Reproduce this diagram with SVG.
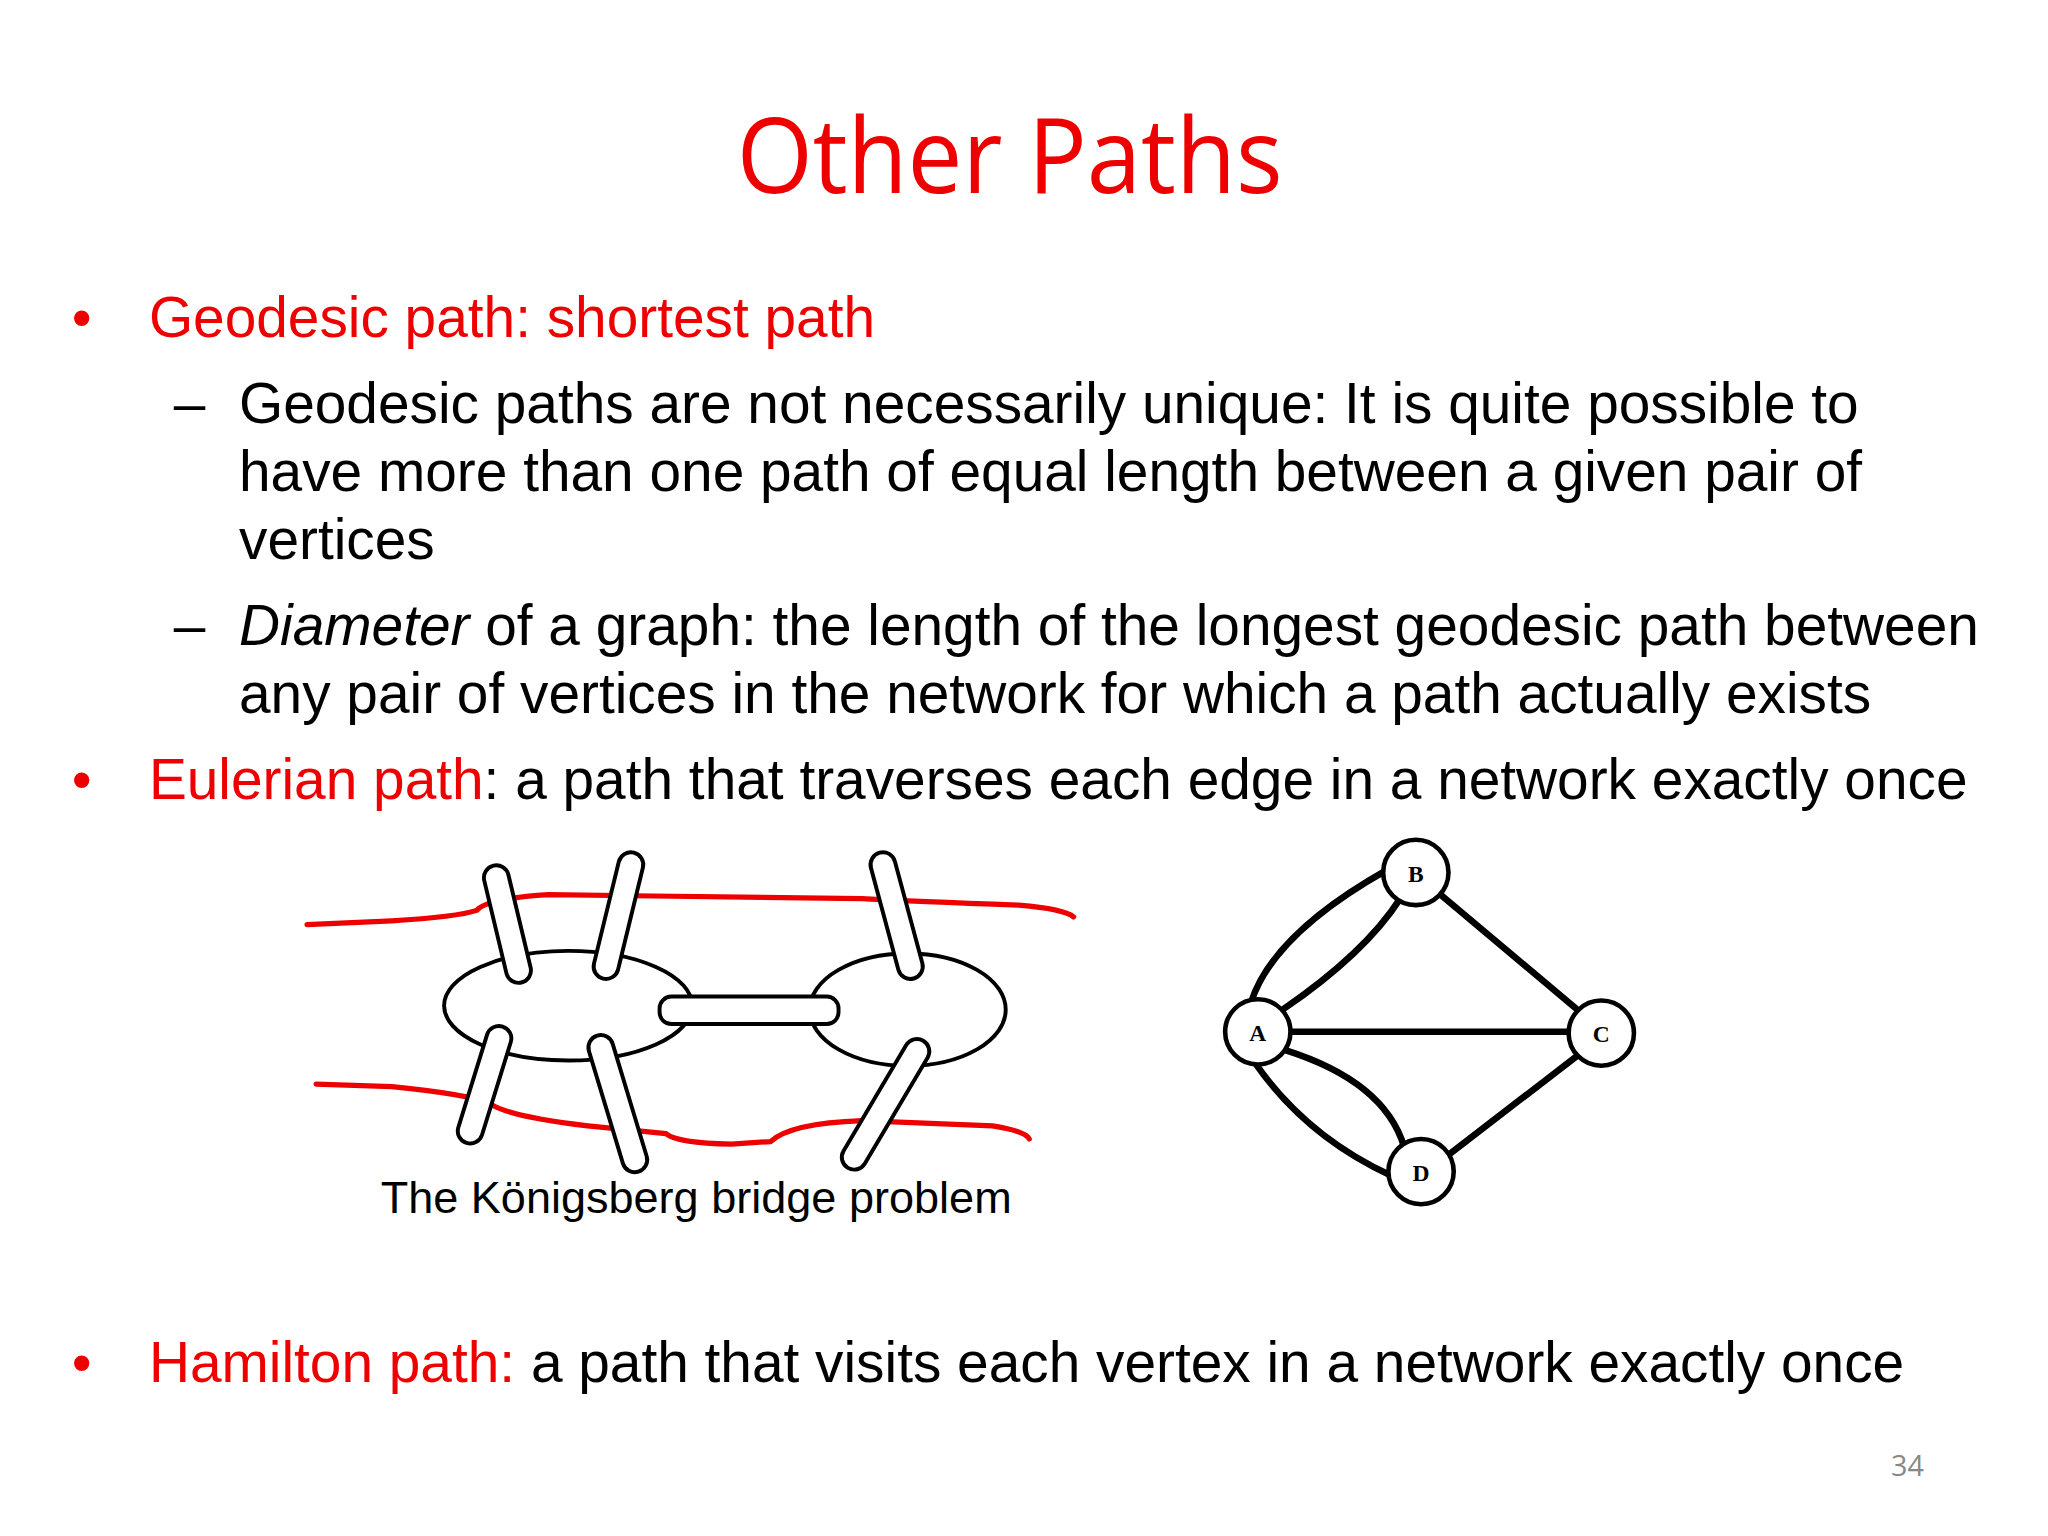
<svg xmlns="http://www.w3.org/2000/svg" width="2048" height="1536" viewBox="0 0 2048 1536">
<style>
.t{font-family:"Liberation Sans",Arial,sans-serif;font-size:43.5px;fill:#000}
.r{fill:#ee0000}
.red{fill:none;stroke:#ee0000;stroke-width:4;stroke-linecap:round;stroke-linejoin:round}
.isl{fill:#fff;stroke:#000;stroke-width:3}
.br{fill:#fff;stroke:#000;stroke-width:3}
.e{fill:none;stroke:#000;stroke-width:5}
.n{fill:#fff;stroke:#000;stroke-width:3.5}
.nl{font-family:"Liberation Serif",serif;font-weight:bold;font-size:18px;text-anchor:middle}
</style>
<rect width="2048" height="1536" fill="#fff"/>
<g transform="scale(1.30612)">
<text x="773" y="148" text-anchor="middle" font-family="'Open Sans','Liberation Sans',sans-serif" font-size="80" fill="#ee0000" textLength="418" lengthAdjust="spacingAndGlyphs">Other Paths</text>
<g class="t">
<text x="55" y="258" class="r">•</text>
<text x="114" y="258" class="r">Geodesic path: shortest path</text>
<text x="133" y="324">–</text>
<text x="183" y="324">Geodesic paths are not necessarily unique: It is quite possible to</text>
<text x="183" y="376">have more than one path of equal length between a given pair of</text>
<text x="183" y="428">vertices</text>
<text x="133" y="494">–</text>
<text x="183" y="494"><tspan font-style="italic">Diameter</tspan> of a graph: the length of the longest geodesic path between</text>
<text x="183" y="546">any pair of vertices in the network for which a path actually exists</text>
<text x="55" y="612" class="r">•</text>
<text x="114" y="612"><tspan class="r">Eulerian path</tspan>: a path that traverses each edge in a network exactly once</text>
<text x="55" y="1058" class="r">•</text>
<text x="114" y="1058"><tspan class="r">Hamilton path:</tspan> a path that visits each vertex in a network exactly once</text>
</g>
<text x="1473" y="1130" text-anchor="end" font-family="'Open Sans',sans-serif" font-size="22" fill="#888">34</text>
<g id="konigsberg">
<path class="red" d="M235,708 L300,705 Q350,702 365,697 Q372,688 420,685 L500,686 L660,688 Q700,690 780,693 Q815,696 822,702"/>
<path class="red" d="M242,830 L300,832 Q360,838 375,845 Q390,855 450,862 L510,868 Q518,875 560,876 L590,874 Q605,860 660,858 L760,862 Q785,866 788,872"/>
<ellipse class="isl" cx="435" cy="770" rx="95" ry="42"/>
<ellipse class="isl" cx="695" cy="773" rx="75" ry="43"/>
<g class="br">
<line x1="380" y1="672" x2="397" y2="743" stroke="#000" stroke-width="22" stroke-linecap="round"/>
<line x1="380" y1="672" x2="397" y2="743" stroke="#fff" stroke-width="16" stroke-linecap="round"/>
<line x1="483" y1="662" x2="464" y2="740" stroke="#000" stroke-width="22" stroke-linecap="round"/>
<line x1="483" y1="662" x2="464" y2="740" stroke="#fff" stroke-width="16" stroke-linecap="round"/>
<line x1="676" y1="662" x2="697" y2="740" stroke="#000" stroke-width="22" stroke-linecap="round"/>
<line x1="676" y1="662" x2="697" y2="740" stroke="#fff" stroke-width="16" stroke-linecap="round"/>
<line x1="382" y1="795" x2="360" y2="866" stroke="#000" stroke-width="22" stroke-linecap="round"/>
<line x1="382" y1="795" x2="360" y2="866" stroke="#fff" stroke-width="16" stroke-linecap="round"/>
<line x1="460" y1="802" x2="486" y2="888" stroke="#000" stroke-width="22" stroke-linecap="round"/>
<line x1="460" y1="802" x2="486" y2="888" stroke="#fff" stroke-width="16" stroke-linecap="round"/>
<line x1="702" y1="805" x2="654" y2="886" stroke="#000" stroke-width="22" stroke-linecap="round"/>
<line x1="702" y1="805" x2="654" y2="886" stroke="#fff" stroke-width="16" stroke-linecap="round"/>
<rect x="505" y="763" width="137" height="21" rx="9" class="br"/>
</g>
<text x="533" y="929" text-anchor="middle" font-family="'Liberation Sans',Arial,sans-serif" font-size="34.5">The Königsberg bridge problem</text>
</g>
<g id="connectors">
<path class="e" d="M958,767 Q975,715 1062,666"/>
<path class="e" d="M982,773 Q1045,730 1072,688"/>
<line class="e" x1="988" y1="790" x2="1200" y2="790"/>
<path class="e" d="M961,814 Q1000,870 1065,900"/>
<path class="e" d="M984,804 Q1060,828 1075,878"/>
<line class="e" x1="1103" y1="685" x2="1210" y2="775"/>
<line class="e" x1="1208" y1="808" x2="1108" y2="885"/>
</g>
<g id="A"><circle class="n" cx="963" cy="790" r="25"/><text class="nl" x="963" y="797">A</text></g>
<g id="B"><circle class="n" cx="1084" cy="668" r="25"/><text class="nl" x="1084" y="675">B</text></g>
<g id="C"><circle class="n" cx="1226" cy="791" r="25"/><text class="nl" x="1226" y="798">C</text></g>
<g id="D"><circle class="n" cx="1088" cy="897" r="25"/><text class="nl" x="1088" y="904">D</text></g>
</g>
</svg>
